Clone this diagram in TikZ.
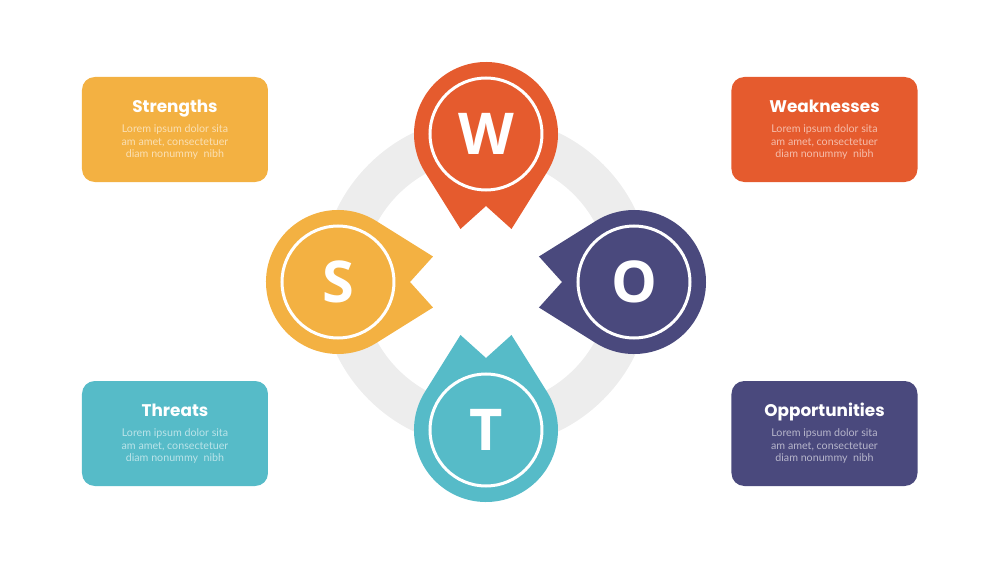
\documentclass[tikz,border=0pt]{standalone}
\usepackage{fontspec}
\usepackage{xcolor}
\usetikzlibrary{positioning}
\usetikzlibrary{calc}

\newfontfamily\titlefont{Poppins}
\newfontfamily\bodyfont{Lato}
\newfontfamily\letterfont{Open Sans}

\definecolor{swotyellow}{RGB}{243,177,66}
\definecolor{swotorange}{RGB}{229,91,46}
\definecolor{swotnavy}{RGB}{74,73,125}
\definecolor{swotteal}{RGB}{86,187,200}
\definecolor{ringgray}{RGB}{237,237,237}

\begin{document}
\begin{tikzpicture}[x=0.25mm, y=0.25mm]
% tikz settings
\tikzstyle{textbox} = [rectangle, rounded corners=3.2mm, minimum width=46.5mm,
    minimum height=26.25mm, inner sep=0pt]
\tikzstyle{boxtitle} = [font=\titlefont\bfseries\fontsize{12}{14}\selectfont,
    text=white, anchor=base, inner sep=0pt]
\tikzstyle{boxtext} = [font=\bodyfont\fontsize{7.6}{8.9}\selectfont, align=center, inner sep=0pt]
\tikzstyle{pinletter} = [font=\letterfont\bfseries\fontsize{41}{44}\selectfont,
    text=white, inner sep=0pt]
\tikzstyle{pinring} = [draw=white, line width=0.75mm]
\tikzstyle{bigring} = [draw=ringgray, line width=10.5mm]

\useasboundingbox (-486,-281) rectangle (514,282);

% the ring
\draw[bigring] (0,0) circle[radius=145];

% the pins
\begin{scope}[shift={(0,148)}]
\fill[swotorange] (-32:72) arc[start angle=-32, end angle=212, radius=72]
    -- (-25.5,-95) -- (0,-72) -- (25.5,-95) -- cycle;
\draw[pinring] (0,0) circle[radius=56];
\node[pinletter] (wletter) at (0,0) {W};
\end{scope}

\begin{scope}[shift={(-148,0)}, rotate=90]
\fill[swotyellow] (-32:72) arc[start angle=-32, end angle=212, radius=72]
    -- (-25.5,-95) -- (0,-72) -- (25.5,-95) -- cycle;
\draw[pinring] (0,0) circle[radius=56];
\node[pinletter] (sletter) at (0,0) {S};
\end{scope}

\begin{scope}[shift={(148,0)}, rotate=-90]
\fill[swotnavy] (-32:72) arc[start angle=-32, end angle=212, radius=72]
    -- (-25.5,-95) -- (0,-72) -- (25.5,-95) -- cycle;
\draw[pinring] (0,0) circle[radius=56];
\node[pinletter] (oletter) at (0,0) {O};
\end{scope}

\begin{scope}[shift={(0,-148)}, rotate=180]
\fill[swotteal] (-32:72) arc[start angle=-32, end angle=212, radius=72]
    -- (-25.5,-95) -- (0,-72) -- (25.5,-95) -- cycle;
\draw[pinring] (0,0) circle[radius=56];
\node[pinletter] (tletter) at (0,0) {T};
\end{scope}

% the boxes
\node[textbox, fill=swotyellow] (strengths) at (-311,152.5) {};
\node[boxtitle] (strengthstitle) at ($(strengths.center)+(0,17.5)$) {Strengths};
\node[boxtext, text=white!60!swotyellow] (strengthstext) at ($(strengths.center)+(0,-12.5)$)
    {Lorem ipsum dolor sita\\am amet, consectetuer\\diam nonummy\ \ nibh};

\node[textbox, fill=swotorange] (weaknesses) at (338.5,152.5) {};
\node[boxtitle] (weaknessestitle) at ($(weaknesses.center)+(0,17.5)$) {Weaknesses};
\node[boxtext, text=white!60!swotorange] (weaknessestext) at ($(weaknesses.center)+(0,-12.5)$)
    {Lorem ipsum dolor sita\\am amet, consectetuer\\diam nonummy\ \ nibh};

\node[textbox, fill=swotteal] (threats) at (-311,-151.5) {};
\node[boxtitle] (threatstitle) at ($(threats.center)+(0,17.5)$) {Threats};
\node[boxtext, text=white!60!swotteal] (threatstext) at ($(threats.center)+(0,-12.5)$)
    {Lorem ipsum dolor sita\\am amet, consectetuer\\diam nonummy\ \ nibh};

\node[textbox, fill=swotnavy] (opportunities) at (338.5,-151.5) {};
\node[boxtitle] (opportunitiestitle) at ($(opportunities.center)+(0,17.5)$) {Opportunities};
\node[boxtext, text=white!60!swotnavy] (opportunitiestext) at ($(opportunities.center)+(0,-12.5)$)
    {Lorem ipsum dolor sita\\am amet, consectetuer\\diam nonummy\ \ nibh};
\end{tikzpicture}
\end{document}
